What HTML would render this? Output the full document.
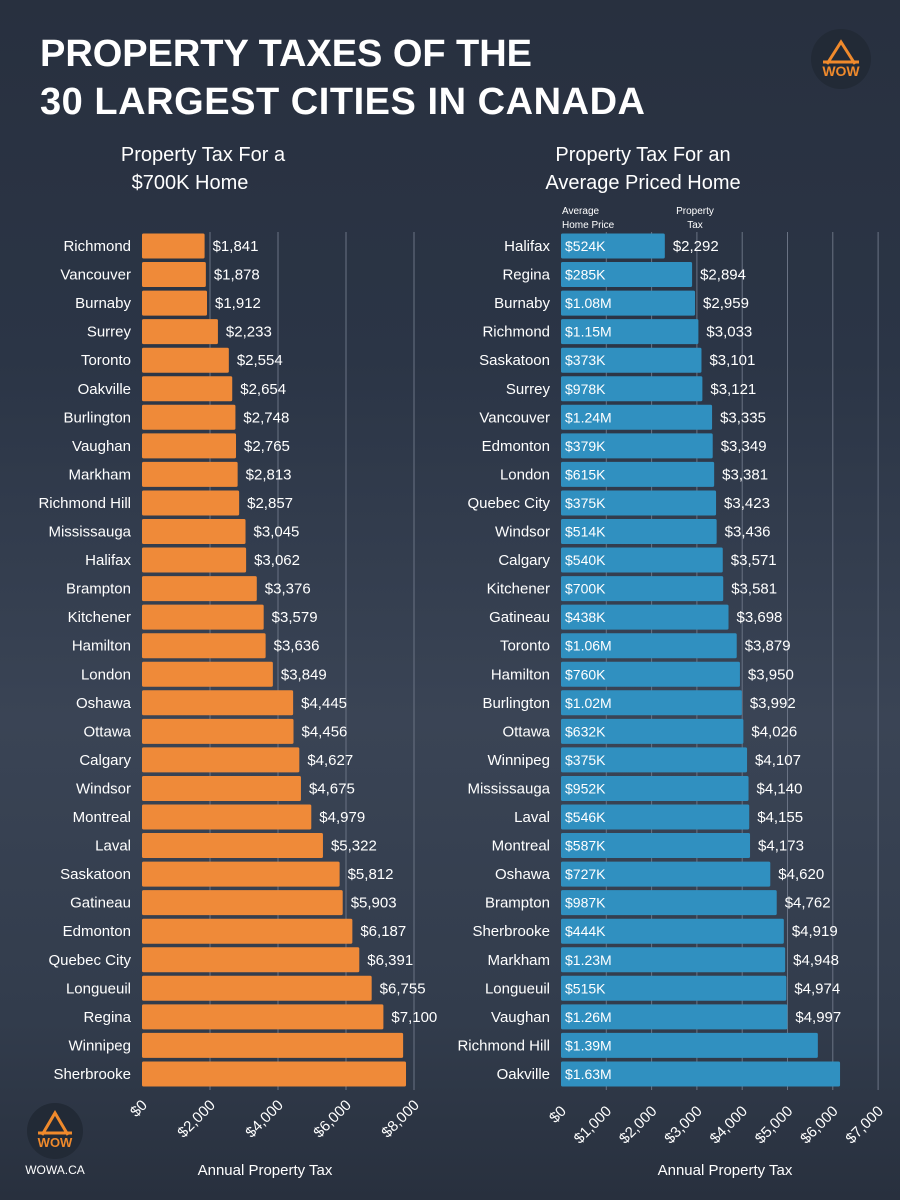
<!DOCTYPE html>
<html><head><meta charset="utf-8">
<style>
body{margin:0;background:#2a3343;}
svg{display:block;font-family:"Liberation Sans Narrow","Liberation Sans",sans-serif;}
</style></head>
<body>
<svg width="900" height="1200" viewBox="0 0 900 1200">
<defs>
<linearGradient id="bg" x1="0" y1="0" x2="0" y2="1">
<stop offset="0" stop-color="#28303f"/><stop offset="0.3" stop-color="#2b3546"/><stop offset="0.6" stop-color="#3a4455"/><stop offset="0.85" stop-color="#323c4c"/><stop offset="1" stop-color="#28303e"/>
</linearGradient>
</defs>
<rect width="900" height="1200" fill="url(#bg)"/>
<text x="40" y="66" fill="#fff" font-size="38" font-weight="bold" font-family="Liberation Sans,sans-serif" textLength="492">PROPERTY TAXES OF THE</text>
<text x="40" y="114" fill="#fff" font-size="38" font-weight="bold" font-family="Liberation Sans,sans-serif" textLength="605">30 LARGEST CITIES IN CANADA</text>
<g>
<circle cx="841" cy="59" r="30" fill="#222a36"/>
<path d="M827 64 L841 42 L855 64 M823 62 L859 62" stroke="#f08a2c" stroke-width="3" fill="none"/>
<text x="841" y="76" text-anchor="middle" fill="#f08a2c" font-size="14" font-weight="bold">WOW</text>
</g>
<text x="203" y="161" fill="#fff" font-size="20" text-anchor="middle"><tspan x="203">Property Tax For a</tspan><tspan x="190" dy="28">$700K Home</tspan></text>
<text x="643" y="161" fill="#fff" font-size="20" text-anchor="middle"><tspan x="643">Property Tax For an</tspan><tspan x="643" dy="28">Average Priced Home</tspan></text>
<text x="562" y="214" fill="#fff" font-size="10"><tspan x="562">Average</tspan><tspan x="562" dy="14">Home Price</tspan></text>
<text x="695" y="214" fill="#fff" font-size="10" text-anchor="middle"><tspan x="695">Property</tspan><tspan x="695" dy="14">Tax</tspan></text>
<g id="left"></g>
<g id="right"></g>
<text x="265" y="1175" fill="#fff" font-size="15" text-anchor="middle">Annual Property Tax</text>
<text x="725" y="1175" fill="#fff" font-size="15" text-anchor="middle">Annual Property Tax</text>
<g>
<circle cx="55" cy="1131" r="28" fill="#222a36"/>
<path d="M42 1135 L55 1113 L68 1135 M38 1133 L72 1133" stroke="#f08a2c" stroke-width="3" fill="none"/>
<text x="55" y="1147" text-anchor="middle" fill="#f08a2c" font-size="13" font-weight="bold">WOW</text>
<text x="55" y="1174" text-anchor="middle" fill="#fff" font-size="12">WOWA.CA</text>
</g>
</svg>
<script>
const leftCities=["Richmond","Vancouver","Burnaby","Surrey","Toronto","Oakville","Burlington","Vaughan","Markham","Richmond Hill","Mississauga","Halifax","Brampton","Kitchener","Hamilton","London","Oshawa","Ottawa","Calgary","Windsor","Montreal","Laval","Saskatoon","Gatineau","Edmonton","Quebec City","Longueuil","Regina","Winnipeg","Sherbrooke"];
const leftValues=[1841,1878,1912,2233,2554,2654,2748,2765,2813,2857,3045,3062,3376,3579,3636,3849,4445,4456,4627,4675,4979,5322,5812,5903,6187,6391,6755,7100,7680,7765];
const leftShowLabel=[1,1,1,1,1,1,1,1,1,1,1,1,1,1,1,1,1,1,1,1,1,1,1,1,1,1,1,1,0,0];
const leftTicks=[0,2000,4000,6000,8000];
const rightCities=["Halifax","Regina","Burnaby","Richmond","Saskatoon","Surrey","Vancouver","Edmonton","London","Quebec City","Windsor","Calgary","Kitchener","Gatineau","Toronto","Hamilton","Burlington","Ottawa","Winnipeg","Mississauga","Laval","Montreal","Oshawa","Brampton","Sherbrooke","Markham","Longueuil","Vaughan","Richmond Hill","Oakville"];
const rightValues=[2292,2894,2959,3033,3101,3121,3335,3349,3381,3423,3436,3571,3581,3698,3879,3950,3992,4026,4107,4140,4155,4173,4620,4762,4919,4948,4974,4997,5670,6160];
const rightPrices=["$524K","$285K","$1.08M","$1.15M","$373K","$978K","$1.24M","$379K","$615K","$375K","$514K","$540K","$700K","$438K","$1.06M","$760K","$1.02M","$632K","$375K","$952K","$546K","$587K","$727K","$987K","$444K","$1.23M","$515K","$1.26M","$1.39M","$1.63M"];
const rightShowLabel=[1,1,1,1,1,1,1,1,1,1,1,1,1,1,1,1,1,1,1,1,1,1,1,1,1,1,1,1,0,0];
const rightTicks=[0,1000,2000,3000,4000,5000,6000,7000];
const NS="http://www.w3.org/2000/svg";
function mk(tag,attrs,parent){const e=document.createElementNS(NS,tag);for(const k in attrs)e.setAttribute(k,attrs[k]);parent.appendChild(e);return e;}
const fmt=v=>"$"+v.toLocaleString("en-US");
const yPos=i=>246+i*28.55;
function chart(g,cities,vals,show,ticks,x0,pxPer,color,prices,labelGap,tickY){
  const x=v=>x0+v*pxPer;
  ticks.forEach(t=>{
    if(t>0){const l=mk("line",{x1:x(t),x2:x(t),y1:232,y2:1090,stroke:"#6a7384","stroke-width":1},g);
    
    }
    const tx=mk("text",{x:x(t)+6,y:tickY,fill:"#fff","font-size":15,"text-anchor":"end",transform:`rotate(-45 ${x(t)+6} ${tickY})`},g);
    tx.textContent=fmt(t);
    
    
  });
  cities.forEach((c,i)=>{
    const y=yPos(i);
    const r=mk("rect",{x:x0,y:y-12.5,width:x(vals[i])-x0,height:25,fill:color,rx:1.5},g);
    
    
    const n=mk("text",{x:x0-11,y:y+5,fill:"#fff","font-size":15,"text-anchor":"end"},g);
    n.textContent=c;
    
    
    if(show[i]){const v=mk("text",{x:x(vals[i])+labelGap,y:y+5,fill:"#fff","font-size":15},g);
    v.textContent=fmt(vals[i]);
    
    }
    if(prices){const p=mk("text",{x:x0+4,y:y+5,fill:"#fff","font-size":14},g);
    p.textContent=prices[i];
    
    }
  });
}
chart(document.getElementById("left"),leftCities,leftValues,leftShowLabel,leftTicks,142,68/2000,"#ef8a39",null,8,1106);
chart(document.getElementById("right"),rightCities,rightValues,rightShowLabel,rightTicks,561,45.3/1000,"#3090c0",rightPrices,8,1112);
</script>
</body></html>
